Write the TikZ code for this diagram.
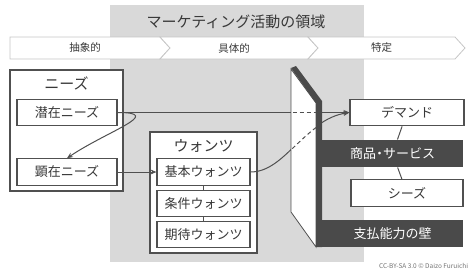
\documentclass[tikz,border=0pt]{standalone}
\usepackage{fontspec}
\setmainfont{Noto Sans CJK JP}
\usetikzlibrary{arrows.meta, positioning}
\definecolor{cband}{HTML}{D9D9D9}
\definecolor{cdark}{HTML}{4A4A4A}
\definecolor{cline}{HTML}{505050}
\definecolor{ctext}{HTML}{383838}
\definecolor{cchev}{HTML}{C6C6C6}
\tikzset{
  every picture/.style={line width=1pt},
  box/.style={draw=cline, fill=white, line width=1.1pt, text=ctext, inner sep=0pt,
    font=\fontsize{13}{15}\selectfont},
  bar/.style={fill=cdark, text=white, inner sep=0pt, font=\fontsize{13}{15}\selectfont},
  arrow/.style={-{Stealth[length=6pt, width=5pt]}, draw=cline, line width=1pt},
  link/.style={draw=cline, line width=1pt},
  chev/.style={draw=cchev, fill=white, line width=0.8pt},
  title/.style={font=\fontsize{15}{17}\selectfont, text=ctext},
  note/.style={font=\fontsize{10.5}{12}\selectfont, text=ctext},
}

\begin{document}
\begin{tikzpicture}[x=1pt, y=-1pt,
  outer/.style={box, minimum width=#1, minimum height=121pt},
  inner/.style={box, minimum width=#1, minimum height=26.5pt},
  credit/.style={font=\fontsize{6.5}{8}\selectfont, text=black!55}]
  \useasboundingbox (0,0) rectangle (474,271);
  % area of marketing
  \fill[cband] (110,5) rectangle (364,262);
  \node[title] (head) at (236,22) {マーケティング活動の領域};
  % stages
  \foreach \a/\b/\d/\t/\n in {10/160/0/抽象的/s1, 160/308/10/具体的/s2, 308/455/10/特定/s3} {
    \draw[chev] (\a,37) -- (\b,37) -- (\b+10,48) -- (\b,59) -- (\a,59) -- (\a+\d,48) -- cycle;
    \node[note] (\n) at ({(\a+\b)/2},48) {\t};
  }
  % needs
  \node[outer=113pt] (needs) at (66.5,130.5) {};
  \node[title] (needst) at (66.5,83) {ニーズ};
  \node[inner=100pt] (senzai) at (67,112.5) {潜在ニーズ};
  \node[inner=100pt] (kenzai) at (67,172) {顕在ニーズ};
  % wants
  \node[outer=107pt] (wants) at (203.5,192.5) {};
  \node[title] (wantst) at (203.5,146) {ウォンツ};
  \node[inner=93pt] (kihon) at (203.5,172) {基本ウォンツ};
  \node[inner=93pt] (jouken) at (203.5,203.5) {条件ウォンツ};
  \node[inner=93pt] (kitai) at (203.5,234.5) {期待ウォンツ};
  \draw[link] (kihon) -- (jouken);
  \draw[link] (jouken) -- (kitai);
  % demand side
  \node[inner=114pt] (demand) at (407,112.5) {デマンド};
  \node[inner=112pt] (seeds) at (407,193) {シーズ};
  % connectors
  \draw[arrow] (senzai.east) .. controls +(48,0) and +(40,-27) .. (kenzai.north);
  \draw[arrow] (kenzai) -- (kihon);
  \draw[arrow] (senzai.east) -- (demand.west);
  \draw[arrow] (kihon.east) .. controls +(35,0) and +(-45,7) .. (demand.west);
  % wall
  \draw[cline, line width=0.8pt, fill=white] (291,69) -- (316,103) -- (316,247) -- (291,212) -- cycle;
  \fill[cdark] (291,68) -- (296,66) -- (322,101) -- (322,247) -- (316,247) -- (316,103) -- cycle;
  \node[bar, minimum width=141pt, minimum height=27pt] (shohin) at (392.5,153.5) {商品\kern-3pt・\kern-3ptサービス};
  \node[bar, minimum width=141pt, minimum height=27pt] (kabe) at (392.5,233.5) {支払能力の壁};
  \draw[link] (demand) -- (shohin);
  \draw[link] (shohin) -- (seeds);
  % behind the wall
  \begin{scope}
    \clip (291,69) -- (316,103) -- (316,247) -- (291,212) -- cycle;
    \draw[link, dash pattern=on 4pt off 3pt] (senzai.east) -- (demand.west);
    \draw[link, dash pattern=on 4pt off 3pt] (kihon.east) .. controls +(35,0) and +(-45,7) .. (demand.west);
  \end{scope}
  \node[credit, anchor=east] (cc) at (472,266) {CC-BY-SA 3.0 © Daizo Furuichi};
\end{tikzpicture}
\end{document}
